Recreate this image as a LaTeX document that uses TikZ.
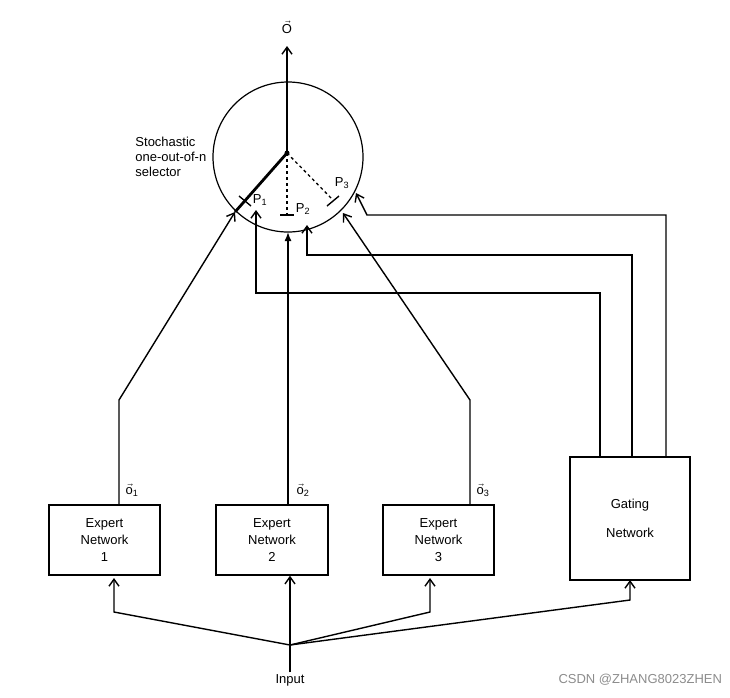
\documentclass[tikz,border=0pt]{standalone}
\usepackage{fontspec}
\setmainfont{Liberation Sans}
\usetikzlibrary{arrows.meta}
\begin{document}
\begin{tikzpicture}[x=1pt,y=-1pt,line width=1.4pt,
  box/.style={draw,line width=1.4pt,align=center,font=\fontsize{13}{17}\selectfont,inner sep=0pt},
  lab/.style={font=\fontsize{13}{15}\selectfont,inner sep=1pt},
  oa/.style={-{Straight Barb[length=7pt,width=10pt]}},
  fa/.style={-{Latex[length=9pt,width=7pt]}}]
\useasboundingbox (0,0) rectangle (730,697);
\node[box,minimum width=111pt,minimum height=70pt] (e1) at (104.5,540) {Expert\\Network\\1};
\node[box,minimum width=112pt,minimum height=70pt] (e2) at (272,540) {Expert\\Network\\2};
\node[box,minimum width=111pt,minimum height=70pt] (e3) at (438.5,540) {Expert\\Network\\3};
\node[box,minimum width=120pt,minimum height=123pt] (g) at (630,518.5) {Gating\\[12pt]Network};
\node[draw,line width=1.2pt,circle,minimum size=150pt,inner sep=0pt] (c) at (288,157) {};
\coordinate (hub) at (287,153);
\fill (hub) circle (2.5pt);
\coordinate (top) at (287,46);
\node[lab] (O) at (287,27) {$\vec{\textrm{O}}$};
\draw[oa] (hub) -- (top);
\node[lab,align=left,anchor=east] (sel) at (208,157) {Stochastic\\one-out-of-n\\selector};
\coordinate (a1) at (119,400); \coordinate (t1) at (235,212);
\coordinate (a3) at (470,400); \coordinate (t3) at (343,213);
\coordinate (t2) at (288,232);
\draw[oa] (e1.north -| a1) -- (a1) -- (t1);
\draw[fa] (e2.north -| t2) -- (t2);
\draw[oa] (e3.north -| a3) -- (a3) -- (t3);
\draw[line width=2.8pt] (hub) -- (t1);
\draw[dashed,line width=1.3pt] (hub) -- (287,215);
\draw[dashed,line width=1.3pt] (hub) -- (333,200);
\coordinate (k1) at (245,201); \coordinate (k2) at (287,215); \coordinate (k3) at (333,201);
\draw (k1) ++(-6,-5) -- ++(12,10);
\draw (k2) ++(-7,0) -- ++(14,0);
\draw (k3) ++(-6,5) -- ++(12,-10);
\node[lab] (p1) at (260,200) {P\textsubscript{1}};
\node[lab] (p2) at (303,209) {P\textsubscript{2}};
\node[lab] (p3) at (342,183) {P\textsubscript{3}};
\coordinate (g3) at (666,457); \coordinate (g2) at (632,457); \coordinate (g1) at (600,457);
\draw[oa] (g3) -- (666,215) -- (367,215) -- (356,193);
\draw[oa] (g2) -- (632,255) -- (307,255) -- (307,225);
\draw[oa] (g1) -- (600,293) -- (256,293) -- (256,210);
\node[lab] (o1) at (132,490) {$\vec{\textrm{o}}$\textsubscript{1}};
\node[lab] (o2) at (303,490) {$\vec{\textrm{o}}$\textsubscript{2}};
\node[lab] (o3) at (483,490) {$\vec{\textrm{o}}$\textsubscript{3}};
\coordinate (in) at (290,645);
\node[lab] (inp) at (290,680) {Input};
\draw (inp.north) -- (in);
\draw[oa] (in) -- (e2.south -| in);
\draw[oa] (in) -- (114,612) -- (114,578);
\draw[oa] (in) -- (430,612) -- (430,578);
\draw[oa] (in) -- (630,600) -- (630,580);
\node[font=\fontsize{13}{15}\selectfont,text=black!45,anchor=east] (wm) at (726,680) {CSDN @ZHANG8023ZHEN};
\end{tikzpicture}
\end{document}
